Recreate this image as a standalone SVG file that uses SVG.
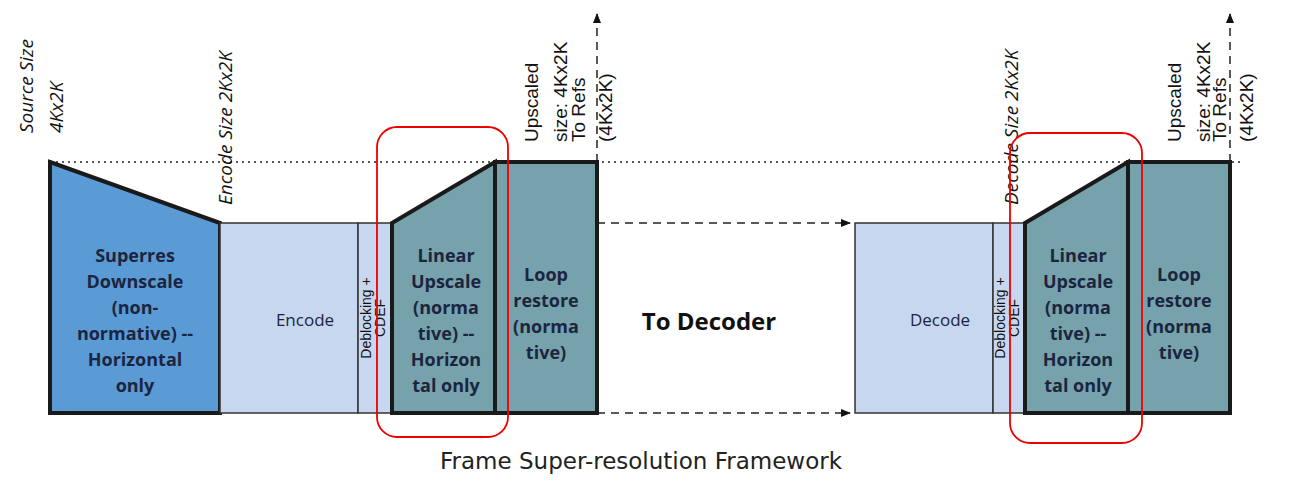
<svg xmlns="http://www.w3.org/2000/svg" width="1308" height="489" viewBox="0 0 1308 489">
<style>
.b{stroke:#1a1a1a;stroke-width:4}
.t{font-family:"Open Sans","Liberation Sans",sans-serif;font-size:18px;font-weight:bold;fill:#1c2540;text-anchor:middle}
.n{font-family:"Open Sans","Liberation Sans",sans-serif;font-size:17px;fill:#1c2540;text-anchor:middle}
.r{font-family:"Liberation Sans",sans-serif;font-size:19px;fill:#111}
.i{font-family:"Open Sans","Liberation Sans",sans-serif;font-size:19px;font-style:italic;fill:#111}
.d{font-family:"Liberation Sans",sans-serif;font-size:14px;fill:#111;text-anchor:middle}
.red{fill:none;stroke:#e00;stroke-width:1.8}
</style>
<defs><marker id="a" markerWidth="10" markerHeight="8" refX="9" refY="4" orient="auto" markerUnits="userSpaceOnUse"><path d="M0,0L10,4L0,8z" fill="#111"/></marker></defs>
<rect width="1308" height="489" fill="#fff"/>
<g id="connectors" fill="none" stroke="#222" stroke-width="1.5">
<line x1="50" y1="162" x2="1240" y2="162" stroke-dasharray="2,4"/>
<line x1="597" y1="223" x2="850" y2="223" stroke-dasharray="8,6" marker-end="url(#a)"/>
<line x1="597" y1="413" x2="850" y2="413" stroke-dasharray="8,6" marker-end="url(#a)"/>
<line x1="597" y1="162" x2="597" y2="14" stroke-dasharray="8,6" marker-end="url(#a)"/>
<line x1="1230" y1="162" x2="1230" y2="14" stroke-dasharray="8,6" marker-end="url(#a)"/>
</g>
<g id="downscale"><path d="M50,162L220,223V413H50Z" fill="#5b9bd5" class="b"/>
<text class="t"><tspan x="135" y="262">Superres</tspan><tspan x="135" y="288">Downscale</tspan><tspan x="135" y="314">(non-</tspan><tspan x="135" y="340">normative) --</tspan><tspan x="135" y="366">Horizontal</tspan><tspan x="135" y="392">only</tspan></text></g>
<g id="encode"><rect x="220" y="223" width="138" height="190" fill="#c6d7ef" stroke="#333" stroke-width="1.5"/><text class="n" x="305" y="326">Encode</text></g>
<g id="deblock1"><rect x="358" y="223" width="34" height="190" fill="#c6d7ef" stroke="#333" stroke-width="1.5"/><text class="d" transform="translate(371,318) rotate(-90)"><tspan x="0" y="0">Deblocking +</tspan><tspan x="0" y="14">CDEF</tspan></text></g>
<g id="upscale1"><path d="M392,223L495,162V413H392Z" fill="#76a2ab" class="b"/>
<text class="t"><tspan x="446" y="262">Linear</tspan><tspan x="446" y="288">Upscale</tspan><tspan x="446" y="314">(norma</tspan><tspan x="446" y="340">tive) --</tspan><tspan x="446" y="366">Horizon</tspan><tspan x="446" y="392">tal only</tspan></text></g>
<g id="loop1"><rect x="495" y="162" width="102" height="251" fill="#76a2ab" class="b"/>
<text class="t"><tspan x="546" y="281">Loop</tspan><tspan x="546" y="307">restore</tspan><tspan x="546" y="333">(norma</tspan><tspan x="546" y="359">tive)</tspan></text></g>
<g id="decode"><rect x="855" y="223" width="138" height="190" fill="#c6d7ef" stroke="#333" stroke-width="1.5"/><text class="n" x="940" y="326">Decode</text></g>
<g id="deblock2"><rect x="993" y="223" width="32" height="190" fill="#c6d7ef" stroke="#333" stroke-width="1.5"/><text class="d" transform="translate(1005,318) rotate(-90)"><tspan x="0" y="0">Deblocking +</tspan><tspan x="0" y="14">CDEF</tspan></text></g>
<g id="upscale2"><path d="M1025,223L1128,162V413H1025Z" fill="#76a2ab" class="b"/>
<text class="t"><tspan x="1078" y="262">Linear</tspan><tspan x="1078" y="288">Upscale</tspan><tspan x="1078" y="314">(norma</tspan><tspan x="1078" y="340">tive) --</tspan><tspan x="1078" y="366">Horizon</tspan><tspan x="1078" y="392">tal only</tspan></text></g>
<g id="loop2"><rect x="1128" y="162" width="102" height="251" fill="#76a2ab" class="b"/>
<text class="t"><tspan x="1179" y="281">Loop</tspan><tspan x="1179" y="307">restore</tspan><tspan x="1179" y="333">(norma</tspan><tspan x="1179" y="359">tive)</tspan></text></g>
<g id="labels">
<text class="i" transform="translate(33,133) rotate(-90)">Source Size</text>
<text class="i" transform="translate(63,133) rotate(-90)">4Kx2K</text>
<text class="i" transform="translate(232,205) rotate(-90)">Encode Size 2Kx2K</text>
<text class="r" transform="translate(538,142) rotate(-90)">Upscaled</text>
<text class="r" transform="translate(567,142) rotate(-90)">size: 4Kx2K</text>
<text class="r" transform="translate(585,142) rotate(-90)">To Refs</text>
<text class="r" transform="translate(612,142) rotate(-90)">(4Kx2K)</text>
<text class="i" transform="translate(1018,205) rotate(-90)">Decode  Size 2Kx2K</text>
<text class="r" transform="translate(1181,142) rotate(-90)">Upscaled</text>
<text class="r" transform="translate(1210,142) rotate(-90)">size: 4Kx2K</text>
<text class="r" transform="translate(1226,142) rotate(-90)">To Refs</text>
<text class="r" transform="translate(1253,142) rotate(-90)">(4Kx2K)</text>
<text x="709" y="330" font-family="'Open Sans','Liberation Sans',sans-serif" font-size="24" font-weight="bold" fill="#111" text-anchor="middle">To Decoder</text>
<text x="641" y="469" font-family="'DejaVu Sans',sans-serif" font-size="23" fill="#222" text-anchor="middle">Frame Super-resolution Framework</text>
</g>
<rect class="red" x="377" y="127" width="131" height="310" rx="20"/>
<rect class="red" x="1010" y="133" width="132" height="310" rx="20"/>
</svg>
